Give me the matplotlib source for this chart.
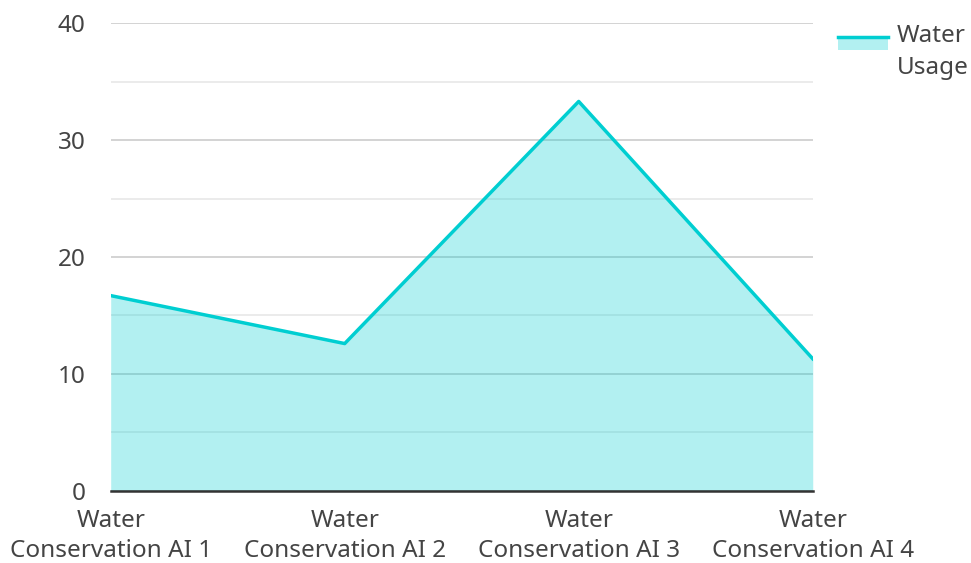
import matplotlib.pyplot as plt
from matplotlib.legend_handler import HandlerBase
from matplotlib.patches import Rectangle
from matplotlib.lines import Line2D
import numpy as np

plt.rcParams['font.family'] = ['Noto Sans', 'DejaVu Sans']

categories = ['Water\nConservation AI 1', 'Water\nConservation AI 2',
              'Water\nConservation AI 3', 'Water\nConservation AI 4']
water_usage = [16.7, 12.6, 33.3, 11.3]

line_color = '#00CED1'
text_color = '#444444'
fs = 17.5


class AreaHandler(HandlerBase):
    # filled box with the line along its top edge
    def create_artists(self, legend, orig_handle, xdescent, ydescent,
                       width, height, fontsize, trans):
        top = height * 1.4
        rect = Rectangle((-xdescent, -ydescent + top - 9.5), width, 9.5,
                         facecolor=line_color, alpha=0.3, edgecolor='none',
                         transform=trans)
        ln = Line2D([-xdescent, -xdescent + width], [top - ydescent, top - ydescent],
                    color=line_color, lw=2.5, transform=trans)
        return [rect, ln]


fig = plt.figure(figsize=(9.71, 5.63), dpi=100)
ax = fig.add_axes([0.114, 0.128, 0.723, 0.831])

x = np.arange(len(categories))
ax.fill_between(x, water_usage, 0, color=line_color, alpha=0.3, lw=0, zorder=2)
ax.plot(x, water_usage, color=line_color, lw=2.5, zorder=3)

ax.set_xlim(0, len(categories) - 1)
ax.set_ylim(0, 40)
ax.set_yticks([0, 10, 20, 30, 40])
ax.set_yticks([5, 15, 25, 35], minor=True)
ax.set_xticks(x)
ax.set_xticklabels(categories, linespacing=1.35)

ax.grid(axis='y', which='major', color='#cccccc', lw=1.2, zorder=1)
ax.grid(axis='y', which='minor', color='#e8e8e8', lw=1.2, zorder=1)
ax.set_axisbelow(True)

for s in ['top', 'right', 'left']:
    ax.spines[s].set_visible(False)
ax.spines['bottom'].set_color('#333333')
ax.spines['bottom'].set_linewidth(1.8)
ax.spines['bottom'].set_zorder(4)

ax.tick_params(axis='both', which='both', length=0, labelsize=fs,
               labelcolor=text_color)
ax.tick_params(axis='y', pad=18)
ax.tick_params(axis='x', pad=13)

leg = ax.legend([object()], ['Water\nUsage'], handler_map={object: AreaHandler()},
                loc='upper left', bbox_to_anchor=(0.863, 0.958),
                bbox_transform=fig.transFigure, frameon=False, fontsize=fs,
                labelcolor=text_color, handlelength=2.05, handletextpad=0.37,
                borderpad=0, borderaxespad=0)
leg.get_texts()[0].set_linespacing(1.45)

fig.savefig('out.png', dpi=100)
